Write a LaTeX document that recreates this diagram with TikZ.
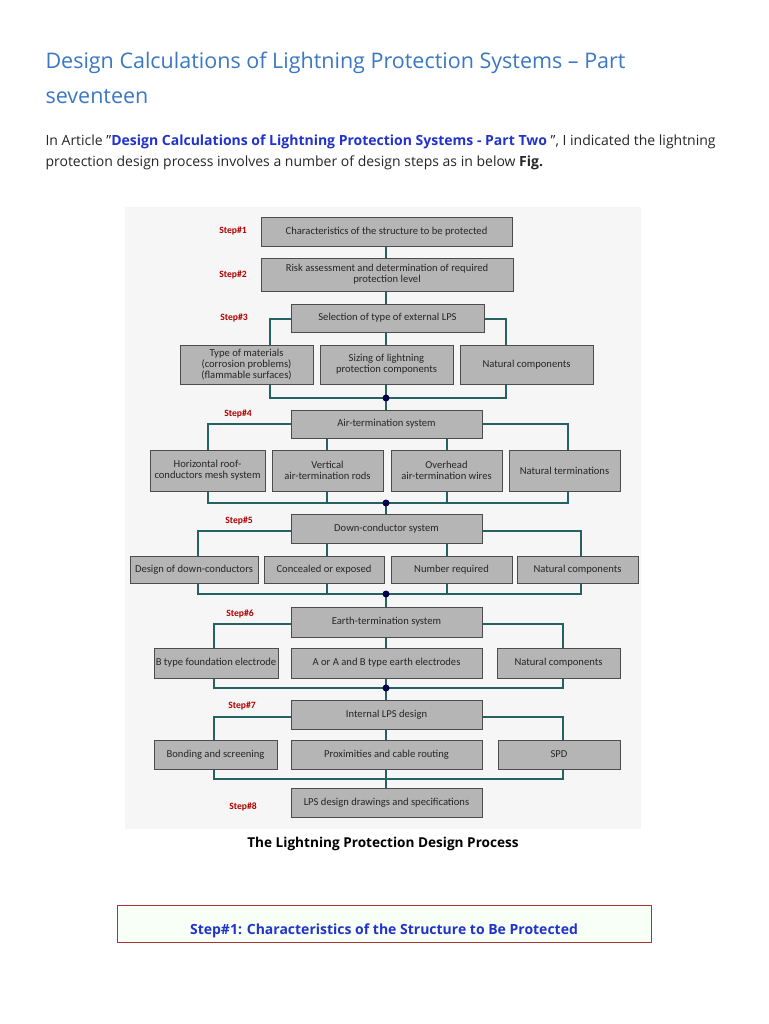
\documentclass[tikz,border=0pt]{standalone}
\usepackage{fontspec}
\setmainfont{Open Sans}
\newfontfamily\figfont{Carlito}
\begin{document}
\begin{tikzpicture}[x=1pt,y=-1pt,
  bx/.style={draw=black!70,fill=gray!58,line width=0.8pt,inner sep=0pt,font=\figfont\fontsize{10.6}{11.2}\selectfont,text=black!85,align=center},
  stp/.style={font=\figfont\bfseries\fontsize{9.6}{10}\selectfont,text=red!70!black},
  ln/.style={draw=teal!55!black!85,line width=1.1pt},
  dot/.style={circle,fill=blue!30!black,inner sep=0pt,minimum size=7pt}]
\useasboundingbox (0,0) rectangle (768,1024);
\fill[white] (0,0) rectangle (768,1024);
\fill[gray!7] (125,207) rectangle (641,829);
\definecolor{ttl}{HTML}{3A78C4}
\definecolor{lnk}{HTML}{2233CC}
\node[anchor=west,text=ttl,font=\fontsize{21.5}{24}\selectfont] (t1) at (42,63) {Design Calculations of Lightning Protection Systems -- Part};
\node[anchor=west,text=ttl,font=\fontsize{21.5}{24}\selectfont] (t2) at (42,97) {seventeen};
\node[anchor=west,font=\fontsize{14}{15}\selectfont,text=black!85] (p1) at (42,142) {In Article "\textcolor{lnk}{\textbf{Design Calculations of Lightning Protection Systems - Part Two}} ", I indicated the lightning};
\node[anchor=west,font=\fontsize{14}{15}\selectfont,text=black!85] (p2) at (42,163) {protection design process involves a number of design steps as in below \textbf{Fig.}};
\newcommand\bxx[6]{\node[bx,minimum width=#3-#2,minimum height=#5-#4] (#1) at ({(#2+#3)/2},{(#4+#5)/2}) {#6};}
\draw[ln] (386,246) -- (386,258);
\draw[ln] (386,291) -- (386,304);
\draw[ln] (291,319) -- (270,319) -- (270,398) -- (506,398) -- (506,319) -- (484,319);
\draw[ln] (386,332) -- (386,410);
\draw[ln] (291,424) -- (208,424) -- (208,503) -- (568,503) -- (568,424) -- (482,424);
\draw[ln] (327,438) -- (327,503) (447,438) -- (447,503) (386,503) -- (386,514);
\draw[ln] (291,531) -- (198,531) -- (198,594) -- (581,594) -- (581,531) -- (482,531);
\draw[ln] (327,543) -- (327,594) (447,543) -- (447,594) (386,594) -- (386,607);
\draw[ln] (291,624) -- (214,624) -- (214,688) -- (563,688) -- (563,624) -- (482,624);
\draw[ln] (386,637) -- (386,700);
\draw[ln] (291,717) -- (214,717) -- (214,779) -- (563,779) -- (563,717) -- (482,717);
\draw[ln] (386,729) -- (386,788);
\bxx{b1}{261}{512}{217}{246}{Characteristics of the structure to be protected}
\bxx{b2}{261}{513}{258}{291}{Risk assessment and determination of required\\protection level}
\bxx{b3}{291}{484}{304}{332}{Selection of type of external LPS}
\bxx{b3a}{180}{313}{345}{384}{Type of materials\\(corrosion problems)\\(flammable surfaces)}
\bxx{b3b}{320}{453}{345}{384}{Sizing of lightning\\protection components}
\bxx{b3c}{460}{593}{345}{384}{Natural components}
\bxx{b4}{291}{482}{410}{438}{Air-termination system}
\bxx{b4a}{150}{265}{450}{491}{Horizontal roof-\\conductors mesh system}
\bxx{b4b}{272}{383}{450}{491}{Vertical\\air-termination rods}
\bxx{b4c}{391}{502}{450}{491}{Overhead\\air-termination wires}
\bxx{b4d}{509}{620}{450}{491}{Natural terminations}
\bxx{b5}{291}{482}{514}{543}{Down-conductor system}
\bxx{b5a}{130}{258}{556}{583}{Design of down-conductors}
\bxx{b5b}{264}{384}{556}{583}{Concealed or exposed}
\bxx{b5c}{391}{512}{556}{583}{Number required}
\bxx{b5d}{517}{638}{556}{583}{Natural components}
\bxx{b6}{291}{482}{607}{637}{Earth-termination system}
\bxx{b6a}{154}{278}{648}{678}{B type foundation electrode}
\bxx{b6b}{291}{482}{648}{678}{A or A and B type earth electrodes}
\bxx{b6c}{497}{620}{648}{678}{Natural components}
\bxx{b7}{291}{482}{700}{729}{Internal LPS design}
\bxx{b7a}{154}{277}{740}{769}{Bonding and screening}
\bxx{b7b}{291}{482}{740}{769}{Proximities and cable routing}
\bxx{b7c}{498}{620}{740}{769}{SPD}
\bxx{b8}{291}{482}{788}{817}{LPS design drawings and specifications}
\node[dot] (d1) at (386,398) {};
\node[dot] (d2) at (386,503) {};
\node[dot] (d3) at (386,594) {};
\node[dot] (d4) at (386,688) {};
\node[stp] (s1) at (233,231) {Step\#1};
\node[stp] (s2) at (233,275) {Step\#2};
\node[stp] (s3) at (234,318) {Step\#3};
\node[stp] (s4) at (238,414) {Step\#4};
\node[stp] (s5) at (239,521) {Step\#5};
\node[stp] (s6) at (240,614) {Step\#6};
\node[stp] (s7) at (242,706) {Step\#7};
\node[stp] (s8) at (243,807) {Step\#8};
\node[font=\bfseries\fontsize{13.6}{15}\selectfont] (cap) at (383,844) {The Lightning Protection Design Process};
\node[draw=red!60!black!80,fill=green!3,minimum width=534,minimum height=37,inner sep=0pt] (hb) at (384,923.5) {};
\node[text=lnk,font=\bfseries\fontsize{14}{15}\selectfont] (ht) at (384,931) {Step\#1: Characteristics of the Structure to Be Protected};
\end{tikzpicture}
\end{document}
